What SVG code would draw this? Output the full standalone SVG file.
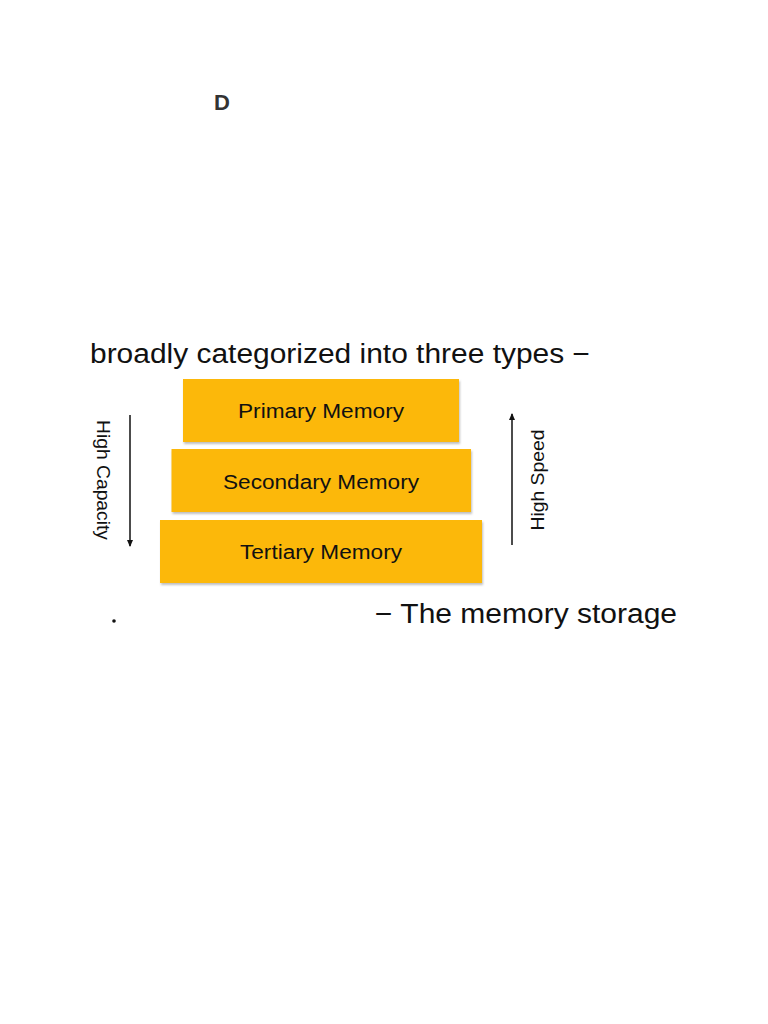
<svg xmlns="http://www.w3.org/2000/svg" width="768" height="1024" viewBox="0 0 768 1024">
<style>
.box{fill:#FCB80A;filter:drop-shadow(1px 2px 1px rgba(0,0,0,0.25))}
.lbl{font-family:"Liberation Sans",Arial,sans-serif;font-size:20px;fill:#111;text-anchor:middle}
.big{font-family:"Liberation Sans",Arial,sans-serif;font-size:27px;fill:#111}
.side{font-family:"Liberation Sans",Arial,sans-serif;font-size:18px;fill:#111;text-anchor:middle}
.ar{stroke:#111;stroke-width:1.5;fill:none;marker-end:url(#ah)}
</style>
<defs><marker id="ah" markerWidth="8" markerHeight="8" refX="6" refY="4" orient="auto" markerUnits="userSpaceOnUse"><path d="M0,1 L7,4 L0,7 Z" fill="#111"/></marker></defs>
<rect width="768" height="1024" fill="#fff"/>
<text x="214" y="110" font-family="Liberation Sans,Arial,sans-serif" font-size="22" font-weight="bold" fill="#333">D</text>
<text class="big" x="90" y="363" textLength="500" lengthAdjust="spacingAndGlyphs">broadly categorized into three types −</text>
<g id="primary"><rect class="box" x="183" y="379" width="276" height="63"/><text class="lbl" x="321" y="418" textLength="166" lengthAdjust="spacingAndGlyphs">Primary Memory</text></g>
<g id="secondary"><rect class="box" x="171.5" y="449" width="299.5" height="63"/><text class="lbl" x="321" y="489" textLength="196" lengthAdjust="spacingAndGlyphs">Secondary Memory</text></g>
<g id="tertiary"><rect class="box" x="160" y="520" width="322" height="63"/><text class="lbl" x="321" y="559" textLength="162" lengthAdjust="spacingAndGlyphs">Tertiary Memory</text></g>
<g id="connectors">
<line class="ar" x1="130" y1="415" x2="130" y2="546"/>
<line class="ar" x1="512" y1="545" x2="512" y2="414"/>
</g>
<text class="side" transform="translate(97,480) rotate(90)" textLength="120" lengthAdjust="spacingAndGlyphs">High Capacity</text>
<text class="side" transform="translate(544,480) rotate(-90)" textLength="101" lengthAdjust="spacingAndGlyphs">High Speed</text>
<circle cx="114" cy="621" r="1.8" fill="#111"/>
<text class="big" x="375" y="623" textLength="302" lengthAdjust="spacingAndGlyphs">− The memory storage</text>
</svg>
